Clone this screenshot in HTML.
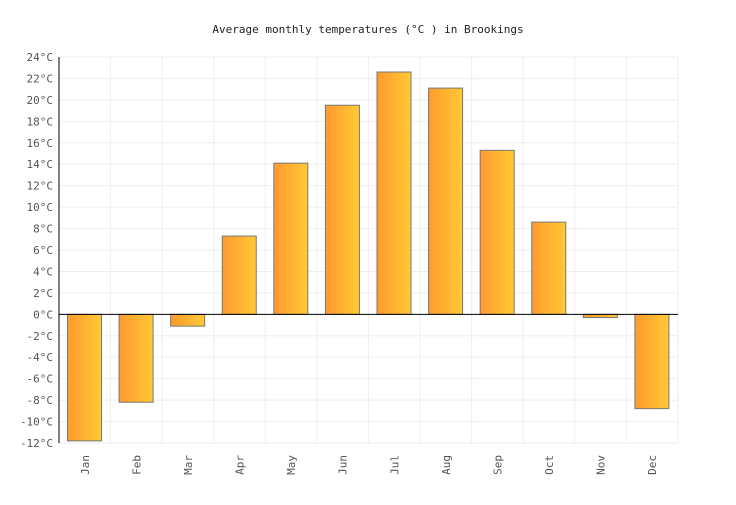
<!DOCTYPE html>
<html><head><meta charset="utf-8"><style>body{margin:0;background:#fff}svg text{font-family:"DejaVu Sans Mono","Liberation Mono",monospace}</style></head>
<body>
<svg id="c" width="736" height="500" xmlns="http://www.w3.org/2000/svg">
<defs><linearGradient id="g" x1="0" x2="1" y1="0" y2="0"><stop offset="0" stop-color="#ff9a2e"/><stop offset="1" stop-color="#ffc936"/></linearGradient></defs>
<text x="368" y="33" text-anchor="middle" font-size="11" fill="#222">Average monthly temperatures (°C ) in Brookings</text>
</svg>
<script>
const months=["Jan","Feb","Mar","Apr","May","Jun","Jul","Aug","Sep","Oct","Nov","Dec"];
const temps=[-11.8,-8.2,-1.1,7.3,14.1,19.5,22.6,21.1,15.3,8.6,-0.3,-8.8];
const ticks=[-12,-10,-8,-6,-4,-2,0,2,4,6,8,10,12,14,16,18,20,22,24];
const svg=document.getElementById('c'),NS="http://www.w3.org/2000/svg";
const L=59,R=678,T=57,B=443,yMin=-12,yMax=24;
const y=v=>B-(v-yMin)/(yMax-yMin)*(B-T);
const bw=(R-L)/months.length;
const x=i=>L+i*bw;
function mk(t,a){const e=document.createElementNS(NS,t);for(const k in a)e.setAttribute(k,a[k]);svg.appendChild(e);return e;}
ticks.forEach(t=>{
 const l=mk('line',{x1:L,x2:R,y1:y(t),y2:y(t),stroke:'#eee'});
 
 
 const tx=mk('text',{x:53,y:y(t)+4,'text-anchor':'end','font-size':11,fill:'#555'});tx.textContent=t+'°C';
 
 
});
for(let i=1;i<=months.length;i++){const l=mk('line',{x1:x(i),x2:x(i),y1:T,y2:B,stroke:'#eee'});
 
 }
temps.forEach((v,i)=>{
 const top=Math.min(y(v),y(0)),h=Math.abs(y(v)-y(0));
 const r=mk('rect',{x:x(i)+8.5,y:top,width:34,height:h,fill:'url(#g)',stroke:'#777','stroke-width':1});
 
 
 const cx=x(i)+bw/2,ty=455;
 const tx=mk('text',{x:cx,y:ty,'text-anchor':'end','font-size':11,fill:'#555',transform:`rotate(-90 ${cx} ${ty})`,dy:4});tx.textContent=months[i];
 
 
});
const z=mk('line',{x1:L,x2:R,y1:y(0),y2:y(0),stroke:'#000'});


const ax=mk('line',{x1:L,x2:L,y1:T,y2:B,stroke:'#000'});


</script>
</body></html>
